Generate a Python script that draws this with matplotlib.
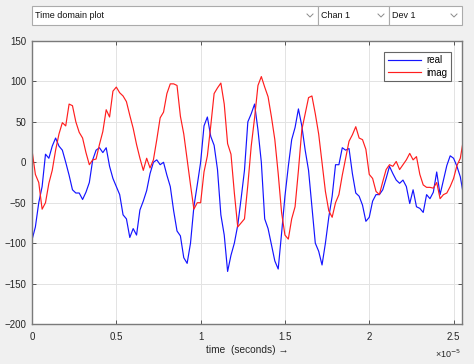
import numpy as np
import matplotlib
matplotlib.use("Agg")
import matplotlib.pyplot as plt
from matplotlib.patches import Rectangle
from matplotlib.lines import Line2D

plt.rcParams['font.family'] = ['Liberation Sans', 'DejaVu Sans']

# time step in units of 1e-5 s
t_step = 0.02
real_vals = [
    -96, -80, -50, -30, 10, 5, 20, 30, 20, 15, 0, -16, -34, -38, -38, -46, -37, -25, 3, 15, 18, 12, 18, -5, -20, -30,
    -40, -65, -70, -93, -82, -90, -59, -48, -35, -14, 0, 3, -3, 0, -16, -30, -60, -85, -91, -118, -125, -100, -55, -28, 0,
    45, 56, 32, 21, -9, -65, -90, -135, -115, -100, -78, -45, -10, 50, 60, 72, 40, 0, -70, -82, -102, -122, -132, -88, -42,
    -5, 28, 43, 66, 45, 15, -10, -55, -100, -110, -127, -100, -68, -42, -3, -3, 18, 15, 17, -14, -38, -42, -53, -73, -68,
    -48, -40, -40, -34, -20, -5, -14, -22, -26, -22, -30, -51, -34, -55, -57, -62, -40, -45, -37, -12, -40, -22, -4, 8, 5,
    -5, -18, -42,
]
imag_vals = [
    15, -15, -25, -58, -50, -26, -10, 15, 35, 49, 45, 72, 70, 50, 37, 30, 12, -3, 3, 4, 22, 38, 65, 56, 88, 93,
    86, 82, 75, 58, 42, 22, 5, -10, 5, -7, 3, 28, 55, 62, 85, 97, 97, 95, 57, 35, 3, -28, -58, -50, -50,
    -12, 8, 45, 85, 92, 98, 72, 23, 10, -38, -80, -75, -70, -28, 20, 55, 95, 106, 93, 81, 56, 28, -14, -62, -90,
    -95, -70, -55, -10, 40, 60, 80, 82, 60, 35, 0, -36, -60, -68, -50, -40, -16, 5, 26, 34, 44, 30, 28, 16, -15,
    -20, -36, -40, -24, -9, -3, -5, 1, -9, -3, 3, 11, 3, 7, -15, -28, -31, -31, -32, -25, -45, -40, -38, -30, -20,
    -4, 5, 30,
]
x_ticks = [0, 0.5, 1, 1.5, 2, 2.5]
x_ticklabels = ['0', '0.5', '1', '1.5', '2', '2.5']
y_ticks = [-200, -150, -100, -50, 0, 50, 100, 150]

t = np.arange(len(real_vals)) * t_step

W, H = 474, 364
fig = plt.figure(figsize=(W / 100, H / 100), dpi=100, facecolor='#f0f0f0')
ax = fig.add_axes([32 / W, 1 - 324 / H, (462 - 32) / W, (324 - 41) / H])
ax.set_facecolor('white')

ax.plot(t, real_vals, color='#1414ff', lw=0.85, label='real')
ax.plot(t, imag_vals, color='#ff1e1e', lw=0.85, label='imag')

ax.set_xlim(0, 2.55)
ax.set_ylim(-200, 150)
ax.set_xticks(x_ticks)
ax.set_xticklabels(x_ticklabels)
ax.set_yticks(y_ticks)
ax.grid(True, color='#e3e3e3', lw=0.7)
ax.set_axisbelow(True)
ax.tick_params(direction='in', length=3, width=0.7, colors='#555555',
               labelcolor='#262626', labelsize=7, top=True, right=True)
ax.tick_params(axis='x', pad=6)
ax.tick_params(axis='y', pad=4)
for s in ax.spines.values():
    s.set_color('#7a7a7a')
    s.set_linewidth(1.0)

ax.set_xlabel('time  (seconds) \u2192', fontsize=7.3, color='#262626', labelpad=2)
fig.text(461 / W, 1 - 354 / H, '\u00d710$^{-5}$', fontsize=6.5, color='#262626',
         ha='right', va='center')

leg = ax.legend(loc='upper right', fontsize=7, frameon=True, fancybox=False,
                handlelength=3.4, handletextpad=0.6, borderpad=0.35, labelspacing=0.25,
                borderaxespad=0,
                bbox_to_anchor=(451 / W, 1 - 52 / H), bbox_transform=fig.transFigure)
leg.get_frame().set_edgecolor('#404040')
leg.get_frame().set_linewidth(0.8)

# top dropdown widgets
boxes = [(32, 318, 'Time domain plot'), (318, 389, 'Chan 1'), (389, 462, 'Dev 1')]
y0, y1 = 6, 25
for xa, xb, label in boxes:
    fig.patches.append(Rectangle((xa / W, 1 - y1 / H), (xb - xa) / W, (y1 - y0) / H,
                                 transform=fig.transFigure, facecolor='white',
                                 edgecolor='#ababab', lw=0.8))
    fig.text((xa + 3) / W, 1 - 15.5 / H, label, fontsize=6.5, color='#111111',
             ha='left', va='center')
    cx = xb - 8
    fig.lines.append(Line2D([(cx - 3) / W, cx / W, (cx + 3) / W],
                            [1 - 14 / H, 1 - 17 / H, 1 - 14 / H],
                            transform=fig.transFigure, color='#8a8a8a', lw=0.7))

fig.savefig('out.png', dpi=100, facecolor=fig.get_facecolor())
